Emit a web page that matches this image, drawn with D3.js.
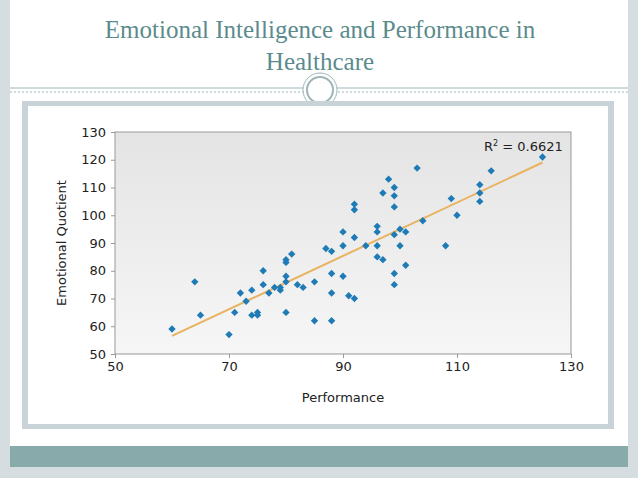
<!DOCTYPE html><html><head><script src="https://cdn.jsdelivr.net/npm/d3@7"></script>
<style>body{margin:0;background:#d5dde1}</style></head><body><svg id="s" width="638" height="478"></svg><script>
const performance=[60,64,65,70,71,72,73,74,74,75,75,76,76,77,78,79,79,80,80,80,80,80,81,82,83,85,85,87,88,88,88,88,90,90,90,91,92,92,92,92,94,96,96,96,96,97,97,98,99,99,99,99,99,99,100,100,101,101,103,104,108,109,110,114,114,114,116,125];
const eq=[59,76,64,57,65,72,69,64,73,65,64,80,75,72,74,73,74,65,78,84,83,76,86,75,74,76,62,88,87,79,72,62,94,89,78,71,70,104,102,92,89,96,94,89,85,108,84,113,110,107,103,93,79,75,95,89,94,82,117,98,89,106,100,111,108,105,116,121];
const trendX=[60,125], trendY=[56.5,119];
const xTicks=[50,70,90,110,130], yTicks=[50,60,70,80,90,100,110,120,130];
const svg=d3.select("#s");
svg.append("rect").attr("x",10).attr("y",0).attr("width",618).attr("height",446).attr("fill","#fff");
svg.append("rect").attr("x",10).attr("y",446).attr("width",618).attr("height",21).attr("fill","#88aaaa");
svg.append("text").attr("x",320).attr("y",38).attr("text-anchor","middle").attr("font-family","Liberation Serif").attr("font-size",25).attr("fill","#5b8b8c").text("Emotional Intelligence and Performance in");
svg.append("text").attr("x",320).attr("y",70).attr("text-anchor","middle").attr("font-family","Liberation Serif").attr("font-size",25).attr("fill","#5b8b8c").text("Healthcare");
svg.append("line").attr("x1",10).attr("x2",628).attr("y1",88).attr("y2",88).attr("stroke","#9fb5b8").attr("stroke-width",1);
svg.append("line").attr("x1",10).attr("x2",628).attr("y1",92).attr("y2",92).attr("stroke","#9fb5b8").attr("stroke-width",1).attr("stroke-dasharray","2,2");
svg.append("circle").attr("cx",320).attr("cy",90).attr("r",17).attr("fill","#fff").attr("stroke","#9fb5b8");
svg.append("circle").attr("cx",320).attr("cy",90).attr("r",13).attr("fill","#fff").attr("stroke","#9fb5b8").attr("stroke-width",2);
svg.append("rect").attr("x",22).attr("y",101).attr("width",592).attr("height",328).attr("fill","#c7d3d7");
svg.append("rect").attr("x",28).attr("y",106).attr("width",580).attr("height",318).attr("fill","#fff");
const x=d3.scaleLinear().domain([50,130]).range([115,571]);
const y=d3.scaleLinear().domain([50,130]).range([354,132]);
const g=svg.append("defs").append("linearGradient").attr("id","gr").attr("x1",0).attr("y1",0).attr("x2",0).attr("y2",1);
g.append("stop").attr("offset",0).attr("stop-color","#e4e4e4");g.append("stop").attr("offset",1).attr("stop-color","#f6f6f6");
svg.append("rect").attr("x",115).attr("y",132).attr("width",456).attr("height",222).attr("fill","url(#gr)").attr("stroke","#999");
const xa=svg.append("g").attr("transform","translate(0,354)").call(d3.axisBottom(x).tickValues(xTicks).tickSize(4).tickPadding(4));
const ya=svg.append("g").attr("transform","translate(115,0)").call(d3.axisLeft(y).tickValues(yTicks).tickSize(4).tickPadding(5));
[xa,ya].forEach(a=>{a.select(".domain").remove();a.selectAll("line").attr("stroke","#999");a.selectAll("text").attr("font-family","DejaVu Sans").attr("font-size",13).attr("fill","#222");});
svg.append("line").attr("x1",x(trendX[0])).attr("y1",y(trendY[0])).attr("x2",x(trendX[1])).attr("y2",y(trendY[1])).attr("stroke","#e8b360").attr("stroke-width",2);
svg.selectAll(".p").data(performance).enter().append("rect").attr("x",-2.6).attr("y",-2.6).attr("width",5.2).attr("height",5.2).attr("transform",(d,i)=>`translate(${x(d)},${y(eq[i])}) rotate(45)`).attr("fill","#1f7bb5");
svg.append("text").attr("x",343).attr("y",402).attr("text-anchor","middle").attr("font-family","DejaVu Sans").attr("font-size",13).attr("fill","#222").text("Performance");
svg.append("text").attr("transform","translate(66,243) rotate(-90)").attr("text-anchor","middle").attr("font-family","DejaVu Sans").attr("font-size",13).attr("fill","#222").text("Emotional Quotient");
const r=svg.append("text").attr("x",484).attr("y",151).attr("font-family","DejaVu Sans").attr("font-size",13).attr("fill","#222");
r.append("tspan").text("R");r.append("tspan").attr("dy",-5).attr("font-size",8).text("2");r.append("tspan").attr("dy",5).text(" = 0.6621");
</script></body></html>
